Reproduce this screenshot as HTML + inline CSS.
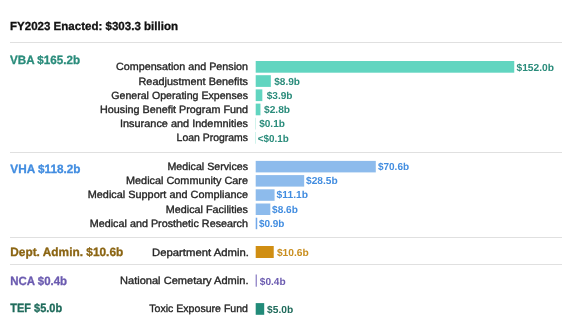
<!DOCTYPE html>
<html><head><meta charset="utf-8"><style>
html,body{margin:0;padding:0;background:#fff;}
body{width:576px;height:336px;overflow:hidden;}
svg{display:block;will-change:transform;font-family:"Liberation Sans",sans-serif;}
</style></head><body>
<svg width="576" height="336" viewBox="0 0 576 336">
<g transform="translate(10.00,30.00) skewX(0.05)"><text x="0" y="0" font-size="11.7" fill="#111111" stroke="#111111" stroke-width="0.3" font-weight="bold" textLength="168.00" lengthAdjust="spacingAndGlyphs">FY2023 Enacted: $303.3 billion</text></g>
<rect x="10.00" y="42.00" width="552.00" height="1.00" fill="#e0e0e0"/>
<rect x="10.00" y="152.00" width="552.00" height="1.00" fill="#e0e0e0"/>
<rect x="10.00" y="237.00" width="552.00" height="1.00" fill="#e0e0e0"/>
<rect x="10.00" y="264.00" width="552.00" height="1.00" fill="#e0e0e0"/>
<g transform="translate(248.00,70.30) skewX(0.05)"><text x="0" y="0" font-size="10.5" fill="#262626" stroke="#262626" stroke-width="0.35" text-anchor="end" textLength="132.00" lengthAdjust="spacingAndGlyphs">Compensation and Pension</text></g>
<rect x="255.70" y="61.00" width="258.55" height="11.70" fill="#61d5c0"/>
<g transform="translate(516.50,70.60) skewX(0.05)"><text x="0" y="0" font-size="10.2" fill="#2a8c7b" stroke="#2a8c7b" stroke-width="0.0" font-weight="bold" textLength="37.50" lengthAdjust="spacingAndGlyphs">$152.0b</text></g>
<g transform="translate(248.00,84.50) skewX(0.05)"><text x="0" y="0" font-size="10.5" fill="#262626" stroke="#262626" stroke-width="0.35" text-anchor="end" textLength="109.50" lengthAdjust="spacingAndGlyphs">Readjustment Benefits</text></g>
<rect x="255.70" y="75.20" width="15.14" height="11.70" fill="#61d5c0"/>
<g transform="translate(274.20,84.80) skewX(0.05)"><text x="0" y="0" font-size="10.2" fill="#2a8c7b" stroke="#2a8c7b" stroke-width="0.0" font-weight="bold" textLength="25.80" lengthAdjust="spacingAndGlyphs">$8.9b</text></g>
<g transform="translate(248.00,98.70) skewX(0.05)"><text x="0" y="0" font-size="10.5" fill="#262626" stroke="#262626" stroke-width="0.35" text-anchor="end" textLength="136.75" lengthAdjust="spacingAndGlyphs">General Operating Expenses</text></g>
<rect x="255.70" y="89.40" width="6.63" height="11.70" fill="#61d5c0"/>
<g transform="translate(266.70,99.00) skewX(0.05)"><text x="0" y="0" font-size="10.2" fill="#2a8c7b" stroke="#2a8c7b" stroke-width="0.0" font-weight="bold" textLength="25.80" lengthAdjust="spacingAndGlyphs">$3.9b</text></g>
<g transform="translate(248.00,112.90) skewX(0.05)"><text x="0" y="0" font-size="10.5" fill="#262626" stroke="#262626" stroke-width="0.35" text-anchor="end" textLength="148.00" lengthAdjust="spacingAndGlyphs">Housing Benefit Program Fund</text></g>
<rect x="255.70" y="103.60" width="4.76" height="11.70" fill="#61d5c0"/>
<g transform="translate(264.00,113.20) skewX(0.05)"><text x="0" y="0" font-size="10.2" fill="#2a8c7b" stroke="#2a8c7b" stroke-width="0.0" font-weight="bold" textLength="26.10" lengthAdjust="spacingAndGlyphs">$2.8b</text></g>
<g transform="translate(248.00,127.10) skewX(0.05)"><text x="0" y="0" font-size="10.5" fill="#262626" stroke="#262626" stroke-width="0.35" text-anchor="end" textLength="128.00" lengthAdjust="spacingAndGlyphs">Insurance and Indemnities</text></g>
<rect x="255.70" y="117.80" width="0.30" height="11.70" fill="#61d5c0"/>
<g transform="translate(259.20,127.40) skewX(0.05)"><text x="0" y="0" font-size="10.2" fill="#2a8c7b" stroke="#2a8c7b" stroke-width="0.0" font-weight="bold" textLength="25.70" lengthAdjust="spacingAndGlyphs">$0.1b</text></g>
<g transform="translate(248.00,141.30) skewX(0.05)"><text x="0" y="0" font-size="10.5" fill="#262626" stroke="#262626" stroke-width="0.35" text-anchor="end" textLength="71.40" lengthAdjust="spacingAndGlyphs">Loan Programs</text></g>
<rect x="255.70" y="132.00" width="0.30" height="11.70" fill="#61d5c0"/>
<g transform="translate(257.80,141.60) skewX(0.05)"><text x="0" y="0" font-size="10.2" fill="#2a8c7b" stroke="#2a8c7b" stroke-width="0.0" font-weight="bold" textLength="30.95" lengthAdjust="spacingAndGlyphs">&lt;$0.1b</text></g>
<g transform="translate(248.00,169.70) skewX(0.05)"><text x="0" y="0" font-size="10.5" fill="#262626" stroke="#262626" stroke-width="0.35" text-anchor="end" textLength="80.50" lengthAdjust="spacingAndGlyphs">Medical Services</text></g>
<rect x="255.70" y="160.90" width="120.09" height="11.50" fill="#8dbbec"/>
<g transform="translate(377.90,169.90) skewX(0.05)"><text x="0" y="0" font-size="10.2" fill="#428de0" stroke="#428de0" stroke-width="0.0" font-weight="bold" textLength="31.20" lengthAdjust="spacingAndGlyphs">$70.6b</text></g>
<g transform="translate(248.00,184.00) skewX(0.05)"><text x="0" y="0" font-size="10.5" fill="#262626" stroke="#262626" stroke-width="0.35" text-anchor="end" textLength="122.00" lengthAdjust="spacingAndGlyphs">Medical Community Care</text></g>
<rect x="255.70" y="175.10" width="48.48" height="11.50" fill="#8dbbec"/>
<g transform="translate(306.00,184.10) skewX(0.05)"><text x="0" y="0" font-size="10.2" fill="#428de0" stroke="#428de0" stroke-width="0.0" font-weight="bold" textLength="31.70" lengthAdjust="spacingAndGlyphs">$28.5b</text></g>
<g transform="translate(248.00,198.30) skewX(0.05)"><text x="0" y="0" font-size="10.5" fill="#262626" stroke="#262626" stroke-width="0.35" text-anchor="end" textLength="160.25" lengthAdjust="spacingAndGlyphs">Medical Support and Compliance</text></g>
<rect x="255.70" y="189.30" width="18.88" height="11.50" fill="#8dbbec"/>
<g transform="translate(276.60,198.30) skewX(0.05)"><text x="0" y="0" font-size="10.2" fill="#428de0" stroke="#428de0" stroke-width="0.0" font-weight="bold" textLength="31.40" lengthAdjust="spacingAndGlyphs">$11.1b</text></g>
<g transform="translate(248.00,212.60) skewX(0.05)"><text x="0" y="0" font-size="10.5" fill="#262626" stroke="#262626" stroke-width="0.35" text-anchor="end" textLength="82.20" lengthAdjust="spacingAndGlyphs">Medical Facilities</text></g>
<rect x="255.70" y="203.50" width="14.63" height="11.50" fill="#8dbbec"/>
<g transform="translate(272.10,212.50) skewX(0.05)"><text x="0" y="0" font-size="10.2" fill="#428de0" stroke="#428de0" stroke-width="0.0" font-weight="bold" textLength="25.80" lengthAdjust="spacingAndGlyphs">$8.6b</text></g>
<g transform="translate(248.00,226.90) skewX(0.05)"><text x="0" y="0" font-size="10.5" fill="#262626" stroke="#262626" stroke-width="0.35" text-anchor="end" textLength="158.25" lengthAdjust="spacingAndGlyphs">Medical and Prosthetic Research</text></g>
<rect x="255.70" y="217.70" width="1.53" height="11.50" fill="#72a8ea"/>
<g transform="translate(258.90,226.70) skewX(0.05)"><text x="0" y="0" font-size="10.2" fill="#428de0" stroke="#428de0" stroke-width="0.0" font-weight="bold" textLength="25.50" lengthAdjust="spacingAndGlyphs">$0.9b</text></g>
<g transform="translate(248.90,255.70) skewX(0.05)"><text x="0" y="0" font-size="10.5" fill="#262626" stroke="#262626" stroke-width="0.35" text-anchor="end" textLength="96.90" lengthAdjust="spacingAndGlyphs">Department Admin.</text></g>
<rect x="255.70" y="246.00" width="18.03" height="12.00" fill="#d08e12"/>
<g transform="translate(276.90,256.00) skewX(0.05)"><text x="0" y="0" font-size="10.2" fill="#c98e1f" stroke="#c98e1f" stroke-width="0.0" font-weight="bold" textLength="31.85" lengthAdjust="spacingAndGlyphs">$10.6b</text></g>
<g transform="translate(248.50,284.30) skewX(0.05)"><text x="0" y="0" font-size="10.5" fill="#262626" stroke="#262626" stroke-width="0.35" text-anchor="end" textLength="128.50" lengthAdjust="spacingAndGlyphs">National Cemetary Admin.</text></g>
<rect x="255.70" y="274.50" width="1.00" height="12.20" fill="#6f5fb5"/>
<g transform="translate(259.80,284.90) skewX(0.05)"><text x="0" y="0" font-size="10.2" fill="#6b5bb0" stroke="#6b5bb0" stroke-width="0.0" font-weight="bold" textLength="25.90" lengthAdjust="spacingAndGlyphs">$0.4b</text></g>
<g transform="translate(248.00,312.40) skewX(0.05)"><text x="0" y="0" font-size="10.5" fill="#262626" stroke="#262626" stroke-width="0.35" text-anchor="end" textLength="98.75" lengthAdjust="spacingAndGlyphs">Toxic Exposure Fund</text></g>
<rect x="255.70" y="303.10" width="8.50" height="11.70" fill="#228b79"/>
<g transform="translate(267.10,312.60) skewX(0.05)"><text x="0" y="0" font-size="10.2" fill="#1f6b5b" stroke="#1f6b5b" stroke-width="0.0" font-weight="bold" textLength="26.10" lengthAdjust="spacingAndGlyphs">$5.0b</text></g>
<g transform="translate(10.00,63.90) skewX(0.05)"><text x="0" y="0" font-size="12.0" fill="#2a8c7b" stroke="#2a8c7b" stroke-width="0.3" font-weight="bold" textLength="70.00" lengthAdjust="spacingAndGlyphs">VBA $165.2b</text></g>
<g transform="translate(10.30,172.80) skewX(0.05)"><text x="0" y="0" font-size="12.0" fill="#428de0" stroke="#428de0" stroke-width="0.3" font-weight="bold" textLength="70.20" lengthAdjust="spacingAndGlyphs">VHA $118.2b</text></g>
<g transform="translate(10.25,255.90) skewX(0.05)"><text x="0" y="0" font-size="12.0" fill="#8b6513" stroke="#8b6513" stroke-width="0.3" font-weight="bold" textLength="113.00" lengthAdjust="spacingAndGlyphs">Dept. Admin. $10.6b</text></g>
<g transform="translate(10.25,285.10) skewX(0.05)"><text x="0" y="0" font-size="12.0" fill="#6b5bb0" stroke="#6b5bb0" stroke-width="0.3" font-weight="bold" textLength="56.85" lengthAdjust="spacingAndGlyphs">NCA $0.4b</text></g>
<g transform="translate(10.25,312.40) skewX(0.05)"><text x="0" y="0" font-size="12.0" fill="#1f6b5b" stroke="#1f6b5b" stroke-width="0.3" font-weight="bold" textLength="51.85" lengthAdjust="spacingAndGlyphs">TEF $5.0b</text></g>
</svg>
</body></html>
